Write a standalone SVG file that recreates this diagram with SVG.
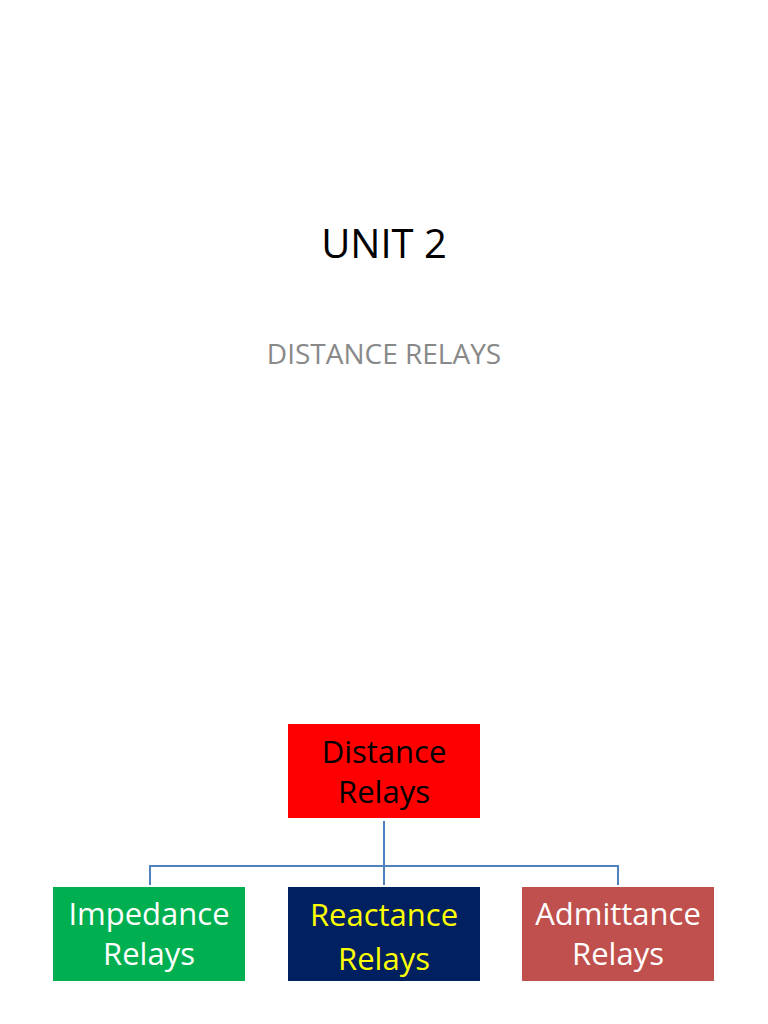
<svg xmlns="http://www.w3.org/2000/svg" width="768" height="1024" viewBox="0 0 768 1024">
<style>
text{font-family:"Open Sans","Noto Sans","Liberation Sans",sans-serif;text-anchor:middle}
.t{font-size:31px}
.w{fill:#ffffff}
.conn{stroke:#4F81BD;stroke-width:2;fill:none}
</style>
<rect width="768" height="1024" fill="#ffffff"/>
<text x="384" y="258" font-size="40" fill="#000000">UNIT 2</text>
<text x="384" y="364" font-size="28" fill="#898989">DISTANCE RELAYS</text>
<g id="connectors">
<path class="conn" d="M384 821 V885 M150 885 V866 H618 V885"/>
</g>
<g id="distance">
<rect x="288" y="724" width="192" height="94" fill="#FF0000"/>
<text class="t" x="384" y="763" fill="#000000">Distance</text>
<text class="t" x="384" y="803" fill="#000000">Relays</text>
</g>
<g id="impedance">
<rect x="53" y="887" width="192" height="94" fill="#00B050"/>
<text class="t w" x="149" y="925">Impedance</text>
<text class="t w" x="149" y="965">Relays</text>
</g>
<g id="reactance">
<rect x="288" y="887" width="192" height="94" fill="#002060"/>
<text class="t" x="384" y="926" fill="#FFFF00">Reactance</text>
<text class="t" x="384" y="970" fill="#FFFF00">Relays</text>
</g>
<g id="admittance">
<rect x="522" y="887" width="192" height="94" fill="#C0504D"/>
<text class="t w" x="618" y="925">Admittance</text>
<text class="t w" x="618" y="965">Relays</text>
</g>
</svg>
